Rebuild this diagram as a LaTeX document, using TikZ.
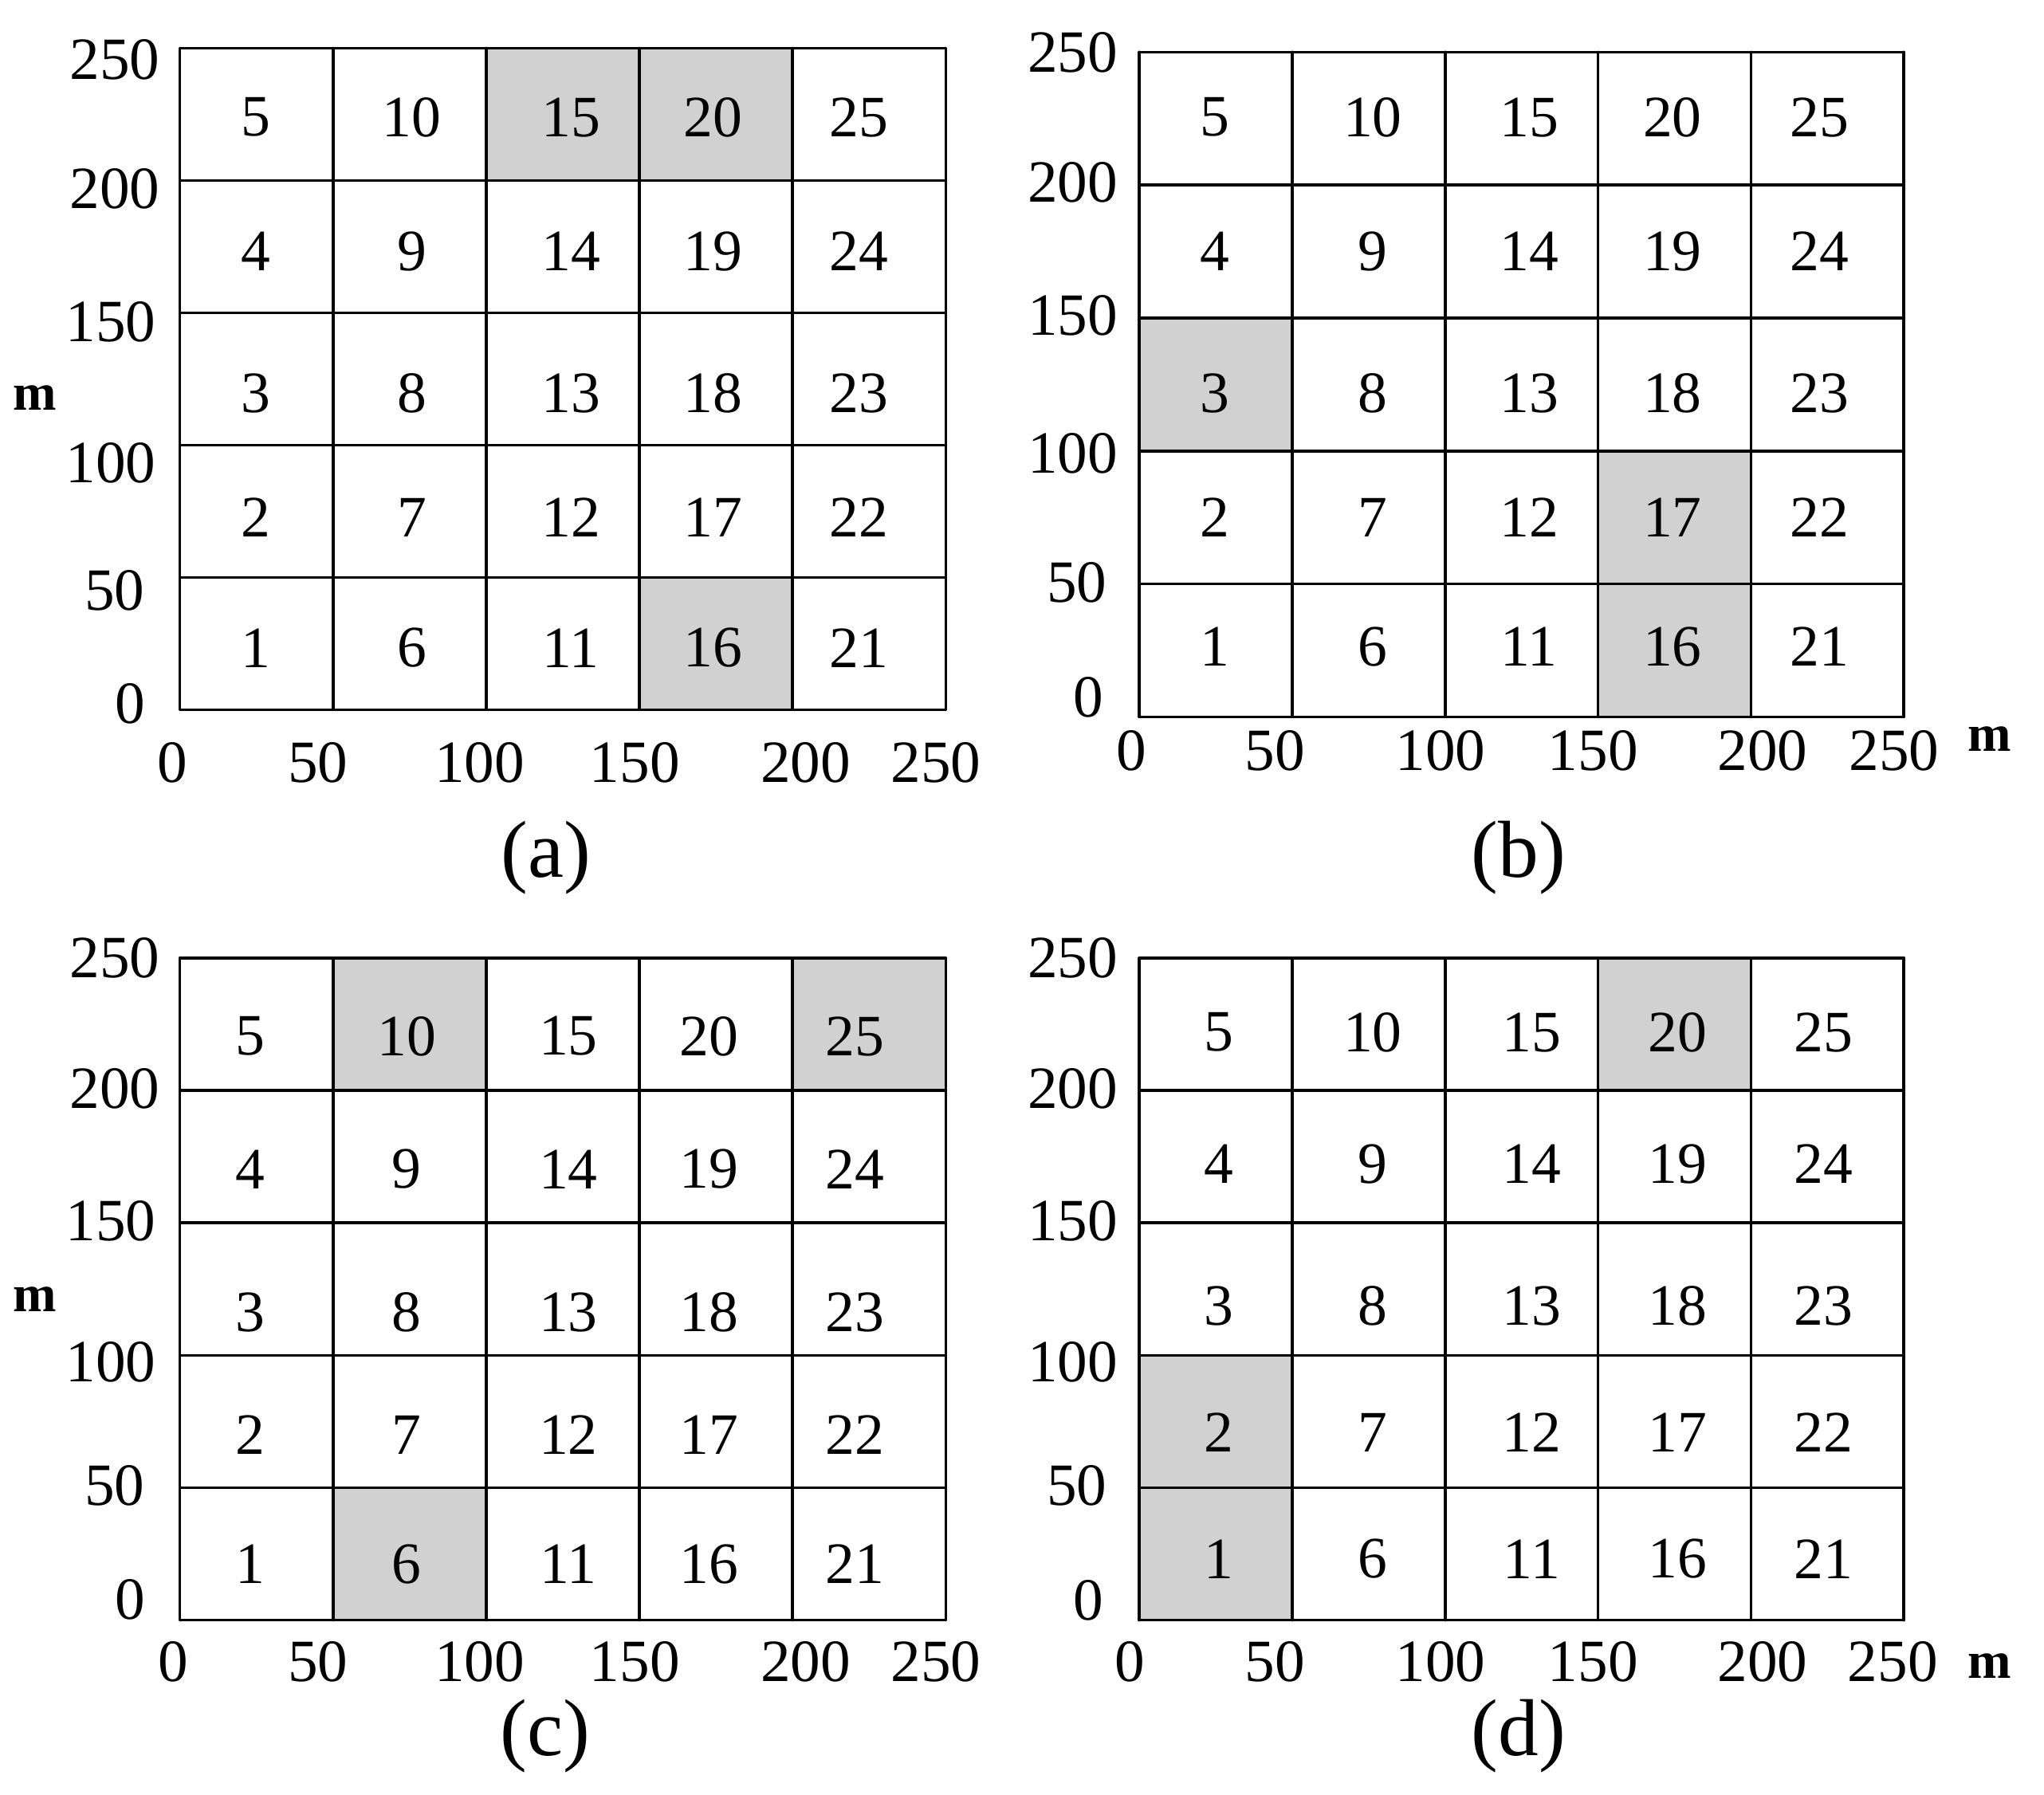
\documentclass[tikz,border=0pt]{standalone}
\usepackage{fontspec}
\setmainfont{Liberation Serif}
\newcommand\drawpanel[5]{% #1 left, #2 top, #3 right, #4 bottom, #5 shaded cells
  \pgfmathsetmacro\cw{(#3-#1)/5}
  \pgfmathsetmacro\ch{(#4-#2)/5}
  \foreach \n in {#5} {
    \pgfmathtruncatemacro\cc{(\n-1)/5}
    \pgfmathtruncatemacro\rr{mod(\n-1,5)}
    \fill[shadecell] ({#1+\cc*\cw},{#4-\rr*\ch}) rectangle ({#1+(\cc+1)*\cw},{#4-(\rr+1)*\ch});
  }
  \foreach \i in {0,...,5} {
    \draw[gridline] ({#1+\i*\cw},#2) -- ({#1+\i*\cw},#4);
    \draw[gridline] (#1,{#2+\i*\ch}) -- (#3,{#2+\i*\ch});
  }
}
\newcommand\panelnums[3]{% #1 name, #2 column x list, #3 row y list (top to bottom)
  \foreach \cx [count=\ci from 0] in {#2} {
    \foreach \ry [count=\ri from 0] in {#3} {
      \pgfmathtruncatemacro\num{\ci*5+5-\ri}
      \node[cellnum] (#1-\num) at (\cx,\ry) {\num};
    }
  }
}
\newcommand\ylabels[7]{% #1 name, #2..#7 "x/y" for 250,200,150,100,50,0
  \node[axnum] (#1-y250) at (#2) {250};
  \node[axnum] (#1-y200) at (#3) {200};
  \node[axnum] (#1-y150) at (#4) {150};
  \node[axnum] (#1-y100) at (#5) {100};
  \node[axnum] (#1-y50) at (#6) {50};
  \node[axnum] (#1-y0) at (#7) {0};
}
\newcommand\xlabels[8]{% #1 name, #2 y, #3..#8 x for 0..250
  \node[axnum] (#1-x0) at (#3,#2) {0};
  \node[axnum] (#1-x50) at (#4,#2) {50};
  \node[axnum] (#1-x100) at (#5,#2) {100};
  \node[axnum] (#1-x150) at (#6,#2) {150};
  \node[axnum] (#1-x200) at (#7,#2) {200};
  \node[axnum] (#1-x250) at (#8,#2) {250};
}
\begin{document}
\begin{tikzpicture}[x=0.5pt,y=-0.5pt,
  gridline/.style={line width=1.1pt, black, line cap=round},
  shadecell/.style={fill=black!18},
  cellnum/.style={font=\fontsize{22.5}{27}\selectfont, inner sep=0pt},
  axnum/.style={font=\fontsize{23}{27}\selectfont, inner sep=0pt},
  unitlbl/.style={font=\fontsize{20}{24}\selectfont\bfseries, inner sep=0pt},
  captionlbl/.style={font=\fontsize{31}{36}\selectfont, inner sep=0pt}]
\useasboundingbox (0,0) rectangle (1568,1377);

% ---------- (a)
\drawpanel{138}{37}{725.5}{544.5}{15,20,16}
\panelnums{a}{196,316,438,547,659}{90,193,302,397,497}
\ylabels{a}{88,46}{88,145}{85,247}{85,355}{88,453}{100,540}
\xlabels{a}{585}{132}{244}{368}{487}{618}{718}
\node[unitlbl] (a-m) at (27,305) {m};
\node[captionlbl] (a-cap) at (419,658) {(a)};

% ---------- (b)
\drawpanel{874}{40}{1460.5}{550}{3,17,16}
\panelnums{b}{932,1053,1173,1283,1396}{90,193,302,397,496}
\ylabels{b}{823,40}{823,140}{823,242}{823,348}{826,447}{835,535}
\xlabels{b}{576}{868}{978}{1105}{1222}{1352}{1453}
\node[unitlbl] (b-m) at (1526,567) {m};
\node[captionlbl] (b-cap) at (1165,658) {(b)};

% ---------- (c)
\drawpanel{138}{735}{725.5}{1243}{10,25,6}
\panelnums{c}{192,312,436,544,656}{795,897,1007,1101,1200}
\ylabels{c}{88,735}{88,835}{85,937}{85,1045}{88,1140}{100,1227}
\xlabels{c}{1275}{133}{244}{368}{487}{618}{718}
\node[unitlbl] (c-m) at (27,997) {m};
\node[captionlbl] (c-cap) at (418,1332) {(c)};

% ---------- (d)
\drawpanel{874}{735}{1460.5}{1243}{20,2,1}
\panelnums{d}{935,1053,1175,1287,1399}{792,893,1002,1099,1196}
\ylabels{d}{823,735}{823,835}{823,937}{823,1045}{826,1140}{835,1228}
\xlabels{d}{1275}{867}{978}{1105}{1222}{1352}{1452}
\node[unitlbl] (d-m) at (1526,1278) {m};
\node[captionlbl] (d-cap) at (1165,1332) {(d)};
\end{tikzpicture}
\end{document}
